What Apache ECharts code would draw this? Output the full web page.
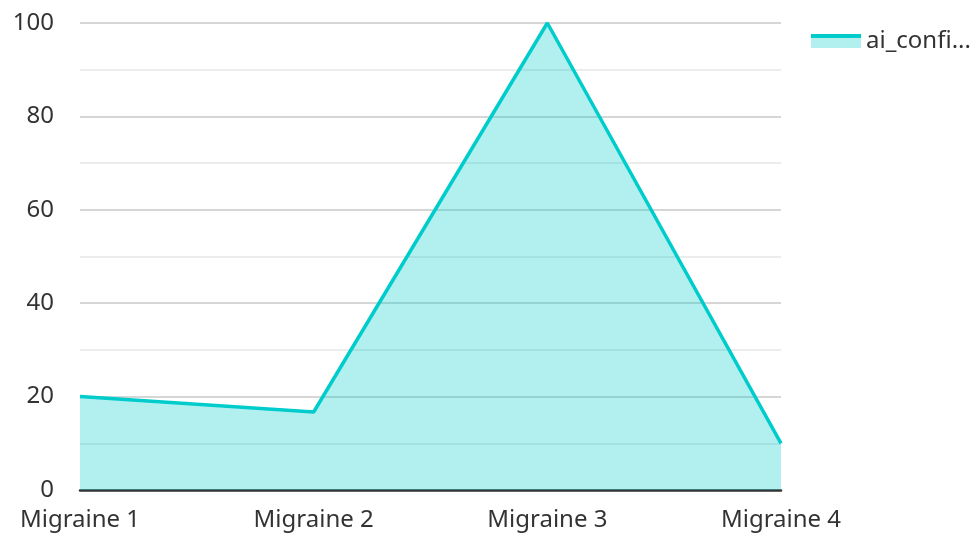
<!DOCTYPE html>
<html>
<head>
<meta charset="utf-8">
<script src="https://cdn.jsdelivr.net/npm/echarts@6/dist/echarts.min.js"></script>
<style>html,body{margin:0;padding:0;background:#fff}#c{width:976px;height:534px}</style>
</head>
<body>
<div id="c"></div>
<script>
const categories = ['Migraine 1', 'Migraine 2', 'Migraine 3', 'Migraine 4'];
const seriesName = 'ai_confidence';
const values = [20, 16.7, 100, 10];
const yTicks = [0, 20, 40, 60, 80, 100];

const chart = echarts.init(document.getElementById('c'));
chart.setOption({
  animation: false,
  textStyle: { fontFamily: 'Noto Sans' },
  grid: { left: 80, right: 195, top: 23, bottom: 44 },
  legend: {
    left: 806, top: 24,
    icon: 'rect',
    itemWidth: 50, itemHeight: 14, itemGap: 10,
    textStyle: { fontSize: 24, color: '#333', width: 116, overflow: 'truncate', fontFamily: 'Noto Sans' },
    data: [{
      name: seriesName,
      itemStyle: {
        color: {
          type: 'linear', x: 0, y: 0, x2: 0, y2: 1,
          colorStops: [
            { offset: 0, color: '#00cccc' }, { offset: 0.28, color: '#00cccc' },
            { offset: 0.28, color: '#b2efef' }, { offset: 1, color: '#b2efef' }
          ]
        }
      }
    }]
  },
  xAxis: {
    type: 'category', data: categories, boundaryGap: false,
    axisLine: { lineStyle: { color: '#333', width: 2.5 } },
    axisTick: { show: false },
    axisLabel: { fontSize: 24, color: '#333', margin: 18 },
    splitLine: { show: false }
  },
  yAxis: {
    type: 'value', min: yTicks[0], max: yTicks[yTicks.length - 1], interval: 20,
    axisLine: { show: false }, axisTick: { show: false },
    axisLabel: { fontSize: 24, color: '#333', margin: 26, lineHeight: 24, padding: [8, 0, 0, 0] },
    splitLine: { lineStyle: { color: '#c8c8c8', width: 1.5 } },
    minorTick: { show: false, splitNumber: 2 },
    minorSplitLine: { show: true, lineStyle: { color: '#e6e6e6', width: 1.5 } }
  },
  series: [{
    name: seriesName, type: 'line', data: values,
    symbol: 'none',
    lineStyle: { color: '#00cccc', width: 3.5 },
    itemStyle: { color: '#00cccc' },
    areaStyle: { color: '#00cccc', opacity: 0.3 }
  }]
});
</script>
</body>
</html>
